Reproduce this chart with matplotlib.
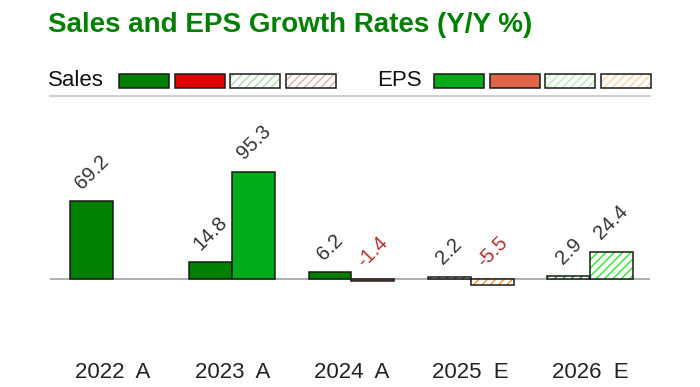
import numpy as np
import matplotlib
matplotlib.use('Agg')
import matplotlib.pyplot as plt
from matplotlib.patches import Rectangle

plt.rcParams.update({
    'font.family': ['Liberation Sans', 'DejaVu Sans'],
    'hatch.linewidth': 1.1,
})

# data
years = ['2022', '2023', '2024', '2025', '2026']
flags = ['A', 'A', 'A', 'E', 'E']
sales = [69.2, 14.8, 6.2, 2.2, 2.9]
eps = [np.nan, 95.3, -1.4, -5.5, 24.4]

# colours: (actual pos, actual neg, estimate pos, estimate neg)
SALES_COL = ['#007f00', '#e00000', '#1fb01f', '#d88080']
EPS_COL = ['#00aa1a', '#e0664a', '#33ee33', '#ff9a33']
SALES_LEG = ['#007f00', '#e00000', '#b4dcb4', '#e4b4b4']
EPS_LEG = ['#00aa1a', '#e0664a', '#b4f2b4', '#ffd4aa']
EDGE = '#1a1a1a'
HATCH = '////'

fig = plt.figure(figsize=(7, 3.87), dpi=100)
ax = fig.add_axes([50/700, (387-340)/387, 600/700, 230/387])

W = 0.36


def draw_bar(x, v, est, cols):
    if np.isnan(v):
        return
    idx = (2 if est else 0) + (1 if v < 0 else 0)
    c = cols[idx]
    if est:
        ax.bar(x, v, W, color='white', edgecolor=c, hatch=HATCH, linewidth=0, zorder=2)
        ax.bar(x, v, W, fill=False, edgecolor=EDGE, linewidth=1.1, zorder=3)
    else:
        ax.bar(x, v, W, color=c, edgecolor=EDGE, linewidth=1.1, zorder=3)
    col = '#b03030' if v < 0 else '#333333'
    ax.annotate(f'{v:.1f}', (x, max(v, 0)), xytext=(0, 6), textcoords='offset points',
                ha='center', va='bottom', rotation=45, fontsize=14.5, color=col)


for i in range(len(years)):
    est = flags[i] == 'E'
    draw_bar(i - W/2, sales[i], est, SALES_COL)
    draw_bar(i + W/2, eps[i], est, EPS_COL)

ax.axhline(0, color='#aaaaaa', linewidth=1.3, zorder=1)
ax.set_xlim(-0.528, 4.503)
ax.set_ylim(-54.1, 150)
ax.set_xticks(range(len(years)))
ax.set_xticklabels([f'{y}  {f}' for y, f in zip(years, flags)], fontsize=16, color='#222222')
ax.tick_params(axis='x', length=0, pad=16)
ax.set_yticks([])
for s in ax.spines.values():
    s.set_visible(False)

# title
fig.text(48/700, 1 - 12/387, 'Sales and EPS Growth Rates (Y/Y %)', ha='left', va='top',
         fontsize=20, fontweight='bold', color='#008000')

# legend row
lg = fig.add_axes([0, 0, 1, 1], zorder=-1)
lg.set_xlim(0, 700)
lg.set_ylim(387, 0)
lg.axis('off')
lg.text(48, 81, 'Sales', ha='left', va='center', fontsize=16, color='#111111')
lg.text(377, 81, 'EPS', ha='left', va='center', fontsize=16, color='#111111')
for x0, cols in [(119, SALES_LEG), (434, EPS_LEG)]:
    for k, c in enumerate(cols):
        xx = x0 + k * 55.5
        if k < 2:
            lg.add_patch(Rectangle((xx, 74), 50, 14, facecolor=c, edgecolor=EDGE, linewidth=1.1))
        else:
            lg.add_patch(Rectangle((xx, 74), 50, 14, facecolor='white', edgecolor=c,
                                   hatch=HATCH, linewidth=0))
            lg.add_patch(Rectangle((xx, 74), 50, 14, fill=False, edgecolor=EDGE, linewidth=1.1))
lg.plot([50, 650], [96, 96], color='#cccccc', linewidth=1.3)

fig.savefig('out.png', dpi=100, facecolor='white')
